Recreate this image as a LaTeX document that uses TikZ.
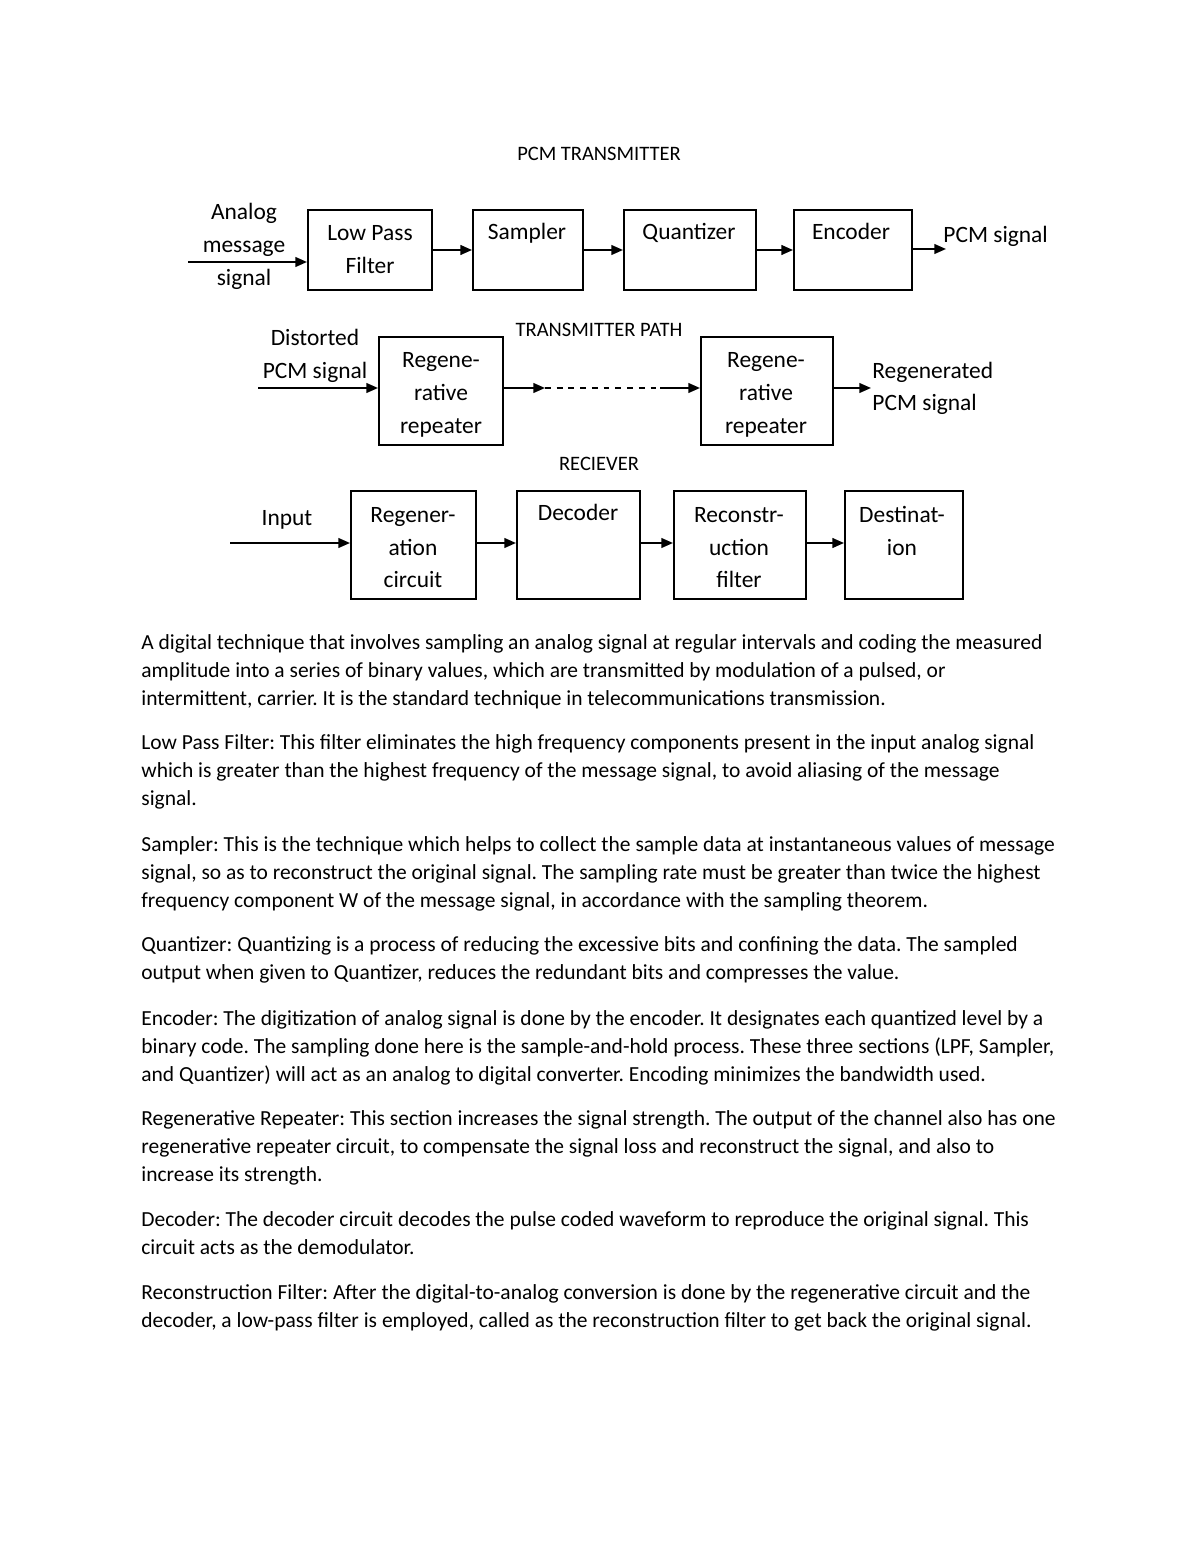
\documentclass[tikz,border=0pt]{standalone}
\usepackage{fontspec}
\setmainfont{Carlito}
\usetikzlibrary{arrows.meta}
\frenchspacing
\begin{document}
\begin{tikzpicture}[x=0.5119pt,y=-0.5119pt,
    blkA/.style={draw,line width=1pt,minimum height=41pt,inner sep=0pt},
    blkB/.style={draw,line width=1pt,minimum height=55.3pt,inner sep=0pt},
    lbl/.style={font=\fontsize{12}{14}\selectfont,inner sep=0pt,anchor=base},
    head/.style={font=\fontsize{10.5}{12}\selectfont,inner sep=0pt,anchor=base},
    body/.style={font=\fontsize{11}{13}\selectfont,inner sep=0pt,anchor=base west},
    arr/.style={line width=1pt,-{Triangle[length=6pt,width=5pt]}}]
    \fill[white] (0,0) rectangle (1200,1553);
    \useasboundingbox (0,0) rectangle (1200,1553);

    % PCM transmitter
    \node[head] (ttx) at (599,161) {PCM TRANSMITTER};
    \node[blkA,minimum width=63.5pt] (lpf) at (370,250) {};
    \node[blkA,minimum width=56.3pt] (smp) at (528,250) {};
    \node[blkA,minimum width=67.6pt] (qnt) at (690,250) {};
    \node[blkA,minimum width=60.4pt] (enc) at (853,250) {};
    \node[lbl] (ana1) at (244,220) {Analog};
    \node[lbl] (ana2) at (244,253) {message};
    \node[lbl] (ana3) at (244,286) {signal};
    \node[lbl] (lpf1) at (370,241) {Low Pass};
    \node[lbl] (lpf2) at (370,274) {Filter};
    \node[lbl] (smp1) at (527,240) {Sampler};
    \node[lbl] (qnt1) at (689,240) {Quantizer};
    \node[lbl] (enc1) at (851,240) {Encoder};
    \node[lbl,anchor=base west] (pcm) at (943,243) {PCM signal};
    \coordinate (in1) at (188,262);
    \coordinate (out1) at (946,249);
    \draw[arr] (in1) -- (in1 -| lpf.west);
    \draw[arr] (lpf) -- (smp);
    \draw[arr] (smp) -- (qnt);
    \draw[arr] (qnt) -- (enc);
    \draw[arr] (enc.east |- out1) -- (out1);

    % Transmitter path
    \node[head] (tpath) at (599,337) {TRANSMITTER PATH};
    \node[blkB,minimum width=63.5pt] (rr1) at (441,391) {};
    \node[blkB,minimum width=67.6pt] (rr2) at (767,391) {};
    \node[lbl] (dis1) at (315,346) {Distorted};
    \node[lbl] (dis2) at (315,379) {PCM signal};
    \node[lbl] (rr1a) at (441,368) {Regene-};
    \node[lbl] (rr1b) at (441,401) {rative};
    \node[lbl] (rr1c) at (441,434) {repeater};
    \node[lbl] (rr2a) at (766,368) {Regene-};
    \node[lbl] (rr2b) at (766,401) {rative};
    \node[lbl] (rr2c) at (766,434) {repeater};
    \node[lbl,anchor=base west] (reg1) at (872,379) {Regenerated};
    \node[lbl,anchor=base west] (reg2) at (872,411) {PCM signal};
    \coordinate (in2) at (258,388);
    \coordinate (dsA) at (545,388);
    \coordinate (dsB) at (660,388);
    \coordinate (out2) at (871,388);
    \draw[arr] (in2) -- (in2 -| rr1.west);
    \draw[arr] (rr1.east |- dsA) -- (dsA);
    \draw[dashed,line width=0.8pt] (dsA) -- (dsB);
    \draw[arr] (dsB) -- (dsB -| rr2.west);
    \draw[arr] (rr2.east |- out2) -- (out2);

    % Reciever
    \node[head] (trx) at (599,470) {RECIEVER};
    \node[blkB,minimum width=64pt] (rgc) at (413.5,545) {};
    \node[blkB,minimum width=63pt] (dec) at (578.5,545) {};
    \node[blkB,minimum width=67.6pt] (rcf) at (740,545) {};
    \node[blkB,minimum width=60.4pt] (dst) at (904,545) {};
    \node[lbl] (inp) at (287,525) {Input};
    \node[lbl] (rgc1) at (413,522) {Regener-};
    \node[lbl] (rgc2) at (413,555) {ation};
    \node[lbl] (rgc3) at (413,587) {circuit};
    \node[lbl] (dec1) at (578,520) {Decoder};
    \node[lbl] (rcf1) at (739,522) {Reconstr-};
    \node[lbl] (rcf2) at (739,555) {uction};
    \node[lbl] (rcf3) at (739,587) {filter};
    \node[lbl] (dst1) at (902,522) {Destinat-};
    \node[lbl] (dst2) at (902,555) {ion};
    \coordinate (in3) at (230,543);
    \draw[arr] (in3) -- (in3 -| rgc.west);
    \draw[arr] (rgc.east |- in3) -- (dec.west |- in3);
    \draw[arr] (dec.east |- in3) -- (rcf.west |- in3);
    \draw[arr] (rcf.east |- in3) -- (dst.west |- in3);

    % Text
    \node[body] (p1a) at (141,649) {A digital technique that involves sampling an analog signal at regular intervals and coding the measured};
    \node[body] (p1b) at (141,677) {amplitude into a series of binary values, which are transmitted by modulation of a pulsed, or};
    \node[body] (p1c) at (141,705) {intermittent, carrier. It is the standard technique in telecommunications transmission.};
    \node[body] (p2a) at (141,749) {Low Pass Filter: This filter eliminates the high frequency components present in the input analog signal};
    \node[body] (p2b) at (141,777) {which is greater than the highest frequency of the message signal, to avoid aliasing of the message};
    \node[body] (p2c) at (141,805) {signal.};
    \node[body] (p3a) at (141,851) {Sampler: This is the technique which helps to collect the sample data at instantaneous values of message};
    \node[body] (p3b) at (141,879) {signal, so as to reconstruct the original signal. The sampling rate must be greater than twice the highest};
    \node[body] (p3c) at (141,907) {frequency component W of the message signal, in accordance with the sampling theorem.};
    \node[body] (p4a) at (141,951) {Quantizer: Quantizing is a process of reducing the excessive bits and confining the data. The sampled};
    \node[body] (p4b) at (141,979) {output when given to Quantizer, reduces the redundant bits and compresses the value.};
    \node[body] (p5a) at (141,1025) {Encoder: The digitization of analog signal is done by the encoder. It designates each quantized level by a};
    \node[body] (p5b) at (141,1053) {binary code. The sampling done here is the sample-and-hold process. These three sections (LPF, Sampler,};
    \node[body] (p5c) at (141,1081) {and Quantizer) will act as an analog to digital converter. Encoding minimizes the bandwidth used.};
    \node[body] (p6a) at (141,1125) {Regenerative Repeater: This section increases the signal strength. The output of the channel also has one};
    \node[body] (p6b) at (141,1153) {regenerative repeater circuit, to compensate the signal loss and reconstruct the signal, and also to};
    \node[body] (p6c) at (141,1181) {increase its strength.};
    \node[body] (p7a) at (141,1226) {Decoder: The decoder circuit decodes the pulse coded waveform to reproduce the original signal. This};
    \node[body] (p7b) at (141,1254) {circuit acts as the demodulator.};
    \node[body] (p8a) at (141,1299) {Reconstruction Filter: After the digital-to-analog conversion is done by the regenerative circuit and the};
    \node[body] (p8b) at (141,1327) {decoder, a low-pass filter is employed, called as the reconstruction filter to get back the original signal.};
\end{tikzpicture}
\end{document}
